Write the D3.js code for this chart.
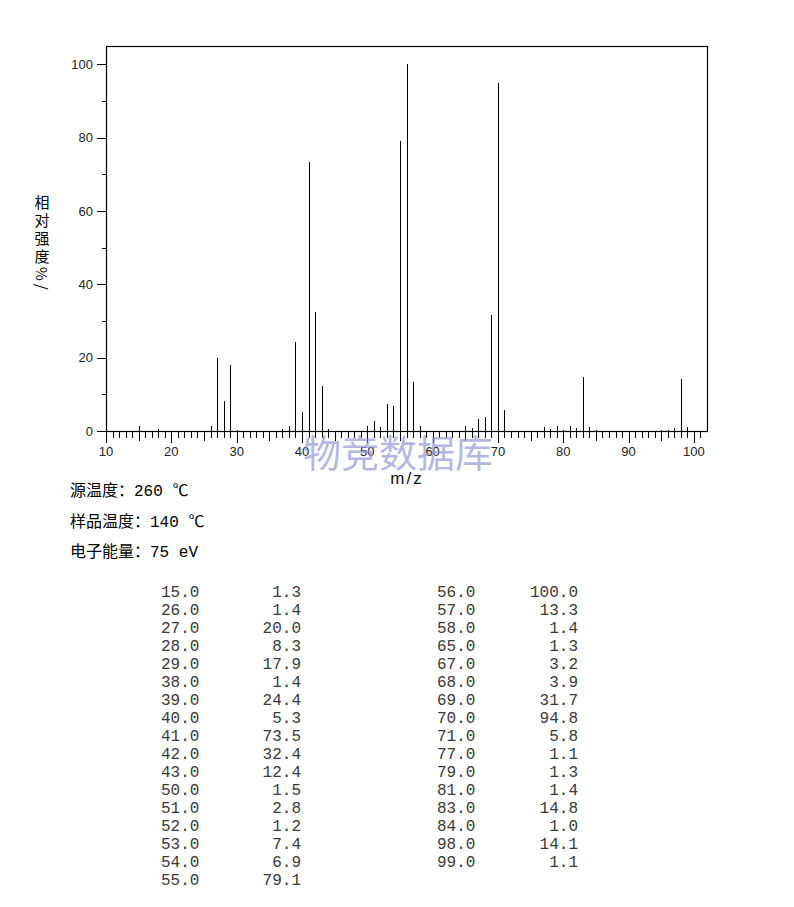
<!DOCTYPE html>
<html>
<head>
<meta charset="utf-8">
<script src="https://cdn.jsdelivr.net/npm/d3@7"></script>
<style>
  html, body { margin: 0; padding: 0; background: #fff; }
  svg { display: block; }
</style>
</head>
<body>
<svg id="chart" width="794" height="907"></svg>
<script>
// ---- Data ----
// Peaks listed in the table (m/z, relative intensity %)
const tableMz = [15, 26, 27, 28, 29, 38, 39, 40, 41, 42, 43, 50, 51, 52, 53, 54, 55,
                 56, 57, 58, 65, 67, 68, 69, 70, 71, 77, 79, 81, 83, 84, 98, 99];
const tableIntensity = [1.3, 1.4, 20.0, 8.3, 17.9, 1.4, 24.4, 5.3, 73.5, 32.4, 12.4, 1.5, 2.8, 1.2, 7.4, 6.9, 79.1,
                        100.0, 13.3, 1.4, 1.3, 3.2, 3.9, 31.7, 94.8, 5.8, 1.1, 1.3, 1.4, 14.8, 1.0, 14.1, 1.1];
// Minor peaks visible in the spectrum but below the table threshold (estimated)
const minorMz = [18, 30, 37, 44, 66, 78, 80, 82, 85, 95, 96, 97];
const minorIntensity = [0.5, 0.4, 0.5, 0.5, 0.7, 0.5, 0.3, 0.7, 0.3, 0.4, 0.4, 0.9];

const xTickLabels = [10, 20, 30, 40, 50, 60, 70, 80, 90, 100];
const yTickLabels = [0, 20, 40, 60, 80, 100];

const infoLines = ["源温度：260 ℃", "样品温度：140 ℃", "电子能量：75 eV"];
const watermark = "物竞数据库";

(function () {
// ---- Layout ----
const svg = d3.select("#chart");
const pL = 106, pR = 707, pT = 46, pB = 431;

const x = d3.scaleLinear().domain([10, 102]).range([pL, pR]);
const y = d3.scaleLinear().domain([0, 105]).range([pB, pT]);

const peaks = tableMz.map((m, i) => ({ mz: m, v: tableIntensity[i] }))
  .concat(minorMz.map((m, i) => ({ mz: m, v: minorIntensity[i] })));

const px = v => Math.round(v) + 0.5;

// Frame
svg.append("rect")
  .attr("x", pL + 0.5).attr("y", pT + 0.5)
  .attr("width", pR - pL).attr("height", pB - pT)
  .attr("fill", "none").attr("stroke", "#000").attr("stroke-width", 1.2);

// X minor/major ticks
const xTicksAll = d3.range(10, 102);
const gx = svg.append("g").attr("transform", `translate(0,${pB + 0.5})`);
gx.call(d3.axisBottom(x).tickValues(xTicksAll).tickSize(6).tickFormat("").tickSizeOuter(0));
gx.select(".domain").remove();
gx.selectAll(".tick line")
  .attr("y2", d => d % 10 === 0 ? 11 : (d % 5 === 0 ? 9 : 6))
  .attr("stroke", "#000")
  .attr("shape-rendering", "crispEdges");
gx.selectAll(".tick").attr("transform", d => `translate(${px(x(d))},0)`);

// X labels
svg.append("g").selectAll("text").data(xTickLabels).join("text")
  .attr("x", d => x(d)).attr("y", 456)
  .attr("text-anchor", "middle")
  .attr("font-family", "Liberation Sans, Arial, sans-serif")
  .attr("font-size", 13).attr("fill", "#222")
  .text(d => d);

// Y ticks
const gy = svg.append("g").attr("transform", `translate(${pL + 0.5},0)`);
gy.call(d3.axisLeft(y).tickValues(d3.range(0, 101, 10)).tickSize(5).tickFormat("").tickSizeOuter(0));
gy.select(".domain").remove();
gy.selectAll(".tick line")
  .attr("x2", d => d % 20 === 0 ? -10 : -5)
  .attr("stroke", "#000")
  .attr("shape-rendering", "crispEdges");
gy.selectAll(".tick").attr("transform", d => `translate(0,${px(y(d))})`);

svg.append("g").selectAll("text").data(yTickLabels).join("text")
  .attr("x", 93).attr("y", d => y(d) + 4.5)
  .attr("text-anchor", "end")
  .attr("font-family", "Liberation Sans, Arial, sans-serif")
  .attr("font-size", 13).attr("fill", "#222")
  .text(d => d);

// Bars
svg.append("g").selectAll("line").data(peaks).join("line")
  .attr("x1", d => px(x(d.mz))).attr("x2", d => px(x(d.mz)))
  .attr("y1", pB).attr("y2", d => y(d.v))
  .attr("stroke", "#000").attr("stroke-width", 1)
  .attr("shape-rendering", "crispEdges");

// Axis titles
svg.append("text")
  .attr("x", 42).attr("y", 195)
  .attr("writing-mode", "tb")
  .attr("font-family", "Noto Sans CJK SC, sans-serif")
  .attr("font-size", 15).attr("letter-spacing", 3).attr("fill", "#000")
  .text("相对强度%/");

svg.append("text")
  .attr("x", 407).attr("y", 484)
  .attr("text-anchor", "middle")
  .attr("font-family", "Liberation Sans, Arial, sans-serif")
  .attr("font-size", 17).attr("letter-spacing", 2).attr("fill", "#111")
  .text("m/z");

// Watermark
svg.append("text")
  .attr("x", 398).attr("y", 467)
  .attr("text-anchor", "middle")
  .attr("font-family", "Noto Sans CJK SC, sans-serif")
  .attr("font-size", 38).attr("fill", "rgb(150,150,215)").attr("fill-opacity", 0.7)
  .text(watermark);

// Info lines
svg.append("g").selectAll("text").data(infoLines).join("text")
  .attr("x", 70).attr("y", (d, i) => 496 + i * 30.5)
  .attr("font-family", "Liberation Mono, Noto Sans CJK SC, monospace")
  .attr("font-size", 16).attr("fill", "#000")
  .text(d => d);

// Table
const nLeft = 17;
const rows = tableMz.map((m, i) => ({ mz: m, v: tableIntensity[i], col: i < nLeft ? 0 : 1, row: i < nLeft ? i : i - nLeft }));
const tbl = svg.append("g")
  .attr("font-family", "Liberation Mono, Courier New, monospace")
  .attr("font-size", 16).attr("fill", "#3a3a3a");
tbl.selectAll("text.mz").data(rows).join("text").attr("class", "mz")
  .attr("x", d => d.col === 0 ? 161 : 437)
  .attr("y", d => 597 + d.row * 18)
  .text(d => d.mz.toFixed(1));
tbl.selectAll("text.v").data(rows).join("text").attr("class", "v")
  .attr("x", d => d.col === 0 ? 301 : 578)
  .attr("y", d => 597 + d.row * 18)
  .attr("text-anchor", "end")
  .text(d => d.v.toFixed(1));
})();
</script>
</body>
</html>
